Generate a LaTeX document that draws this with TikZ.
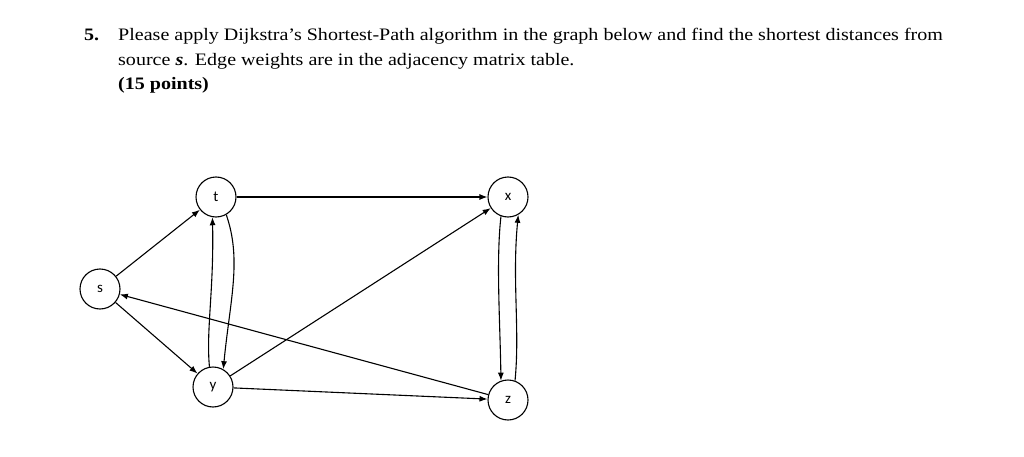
\documentclass[tikz,border=0pt]{standalone}
\usepackage{fontspec}
\setmainfont[FakeStretch=1.145]{Liberation Serif}
\newfontfamily\nodefont{Carlito}
\usetikzlibrary{arrows.meta}
\begin{document}
\begin{tikzpicture}[x=1pt,y=-1pt,
  vert/.style={circle,draw,line width=1.1pt,minimum size=40pt,inner sep=0pt,font=\nodefont\fontsize{15}{15}\selectfont},
  edge/.style={draw,line width=1.1pt,-{Latex[length=8pt,width=6pt]}}]
\useasboundingbox (0,0) rectangle (1024,457);
\node[anchor=base west,font=\fontsize{17.5}{20}\selectfont\bfseries,inner sep=0pt] (num) at (84,41) {5.};
\node[anchor=base west,font=\fontsize{17.5}{20}\selectfont,inner sep=0pt] (l1) at (118,41) {Please apply Dijkstra's Shortest-Path algorithm in the graph below and find the shortest distances from};
\node[anchor=base west,font=\fontsize{17.5}{20}\selectfont,inner sep=0pt] (l2) at (118,66) {source \textit{\textbf{s}}. Edge weights are in the adjacency matrix table.};
\node[anchor=base west,font=\fontsize{17.5}{20}\selectfont\bfseries,inner sep=0pt] (l3) at (118,90) {(15 points)};
\node[vert] (s) at (100,289) {s};
\node[vert] (t) at (216,197) {t};
\node[vert] (x) at (508,197) {x};
\node[vert] (y) at (213,387) {y};
\node[vert] (z) at (508,400) {z};
\draw[edge] (s) -- (t);
\draw[edge] (s) -- (y);
\draw[edge] (t) -- (x);
\draw[edge] (y) -- (z);
\draw[edge] (y) -- (x);
\draw[edge] (z) -- (s);
\draw[edge] (t.-60) .. controls (242,260) and (230,300) .. (y.60);
\draw[edge] (y.100) .. controls (206,330) and (214,290) .. (t.-100);
\draw[edge] (x.-110) .. controls (496,260) and (500,320) .. (z.110);
\draw[edge] (z.70) .. controls (520,330) and (512,280) .. (x.-60);
\end{tikzpicture}
\end{document}
